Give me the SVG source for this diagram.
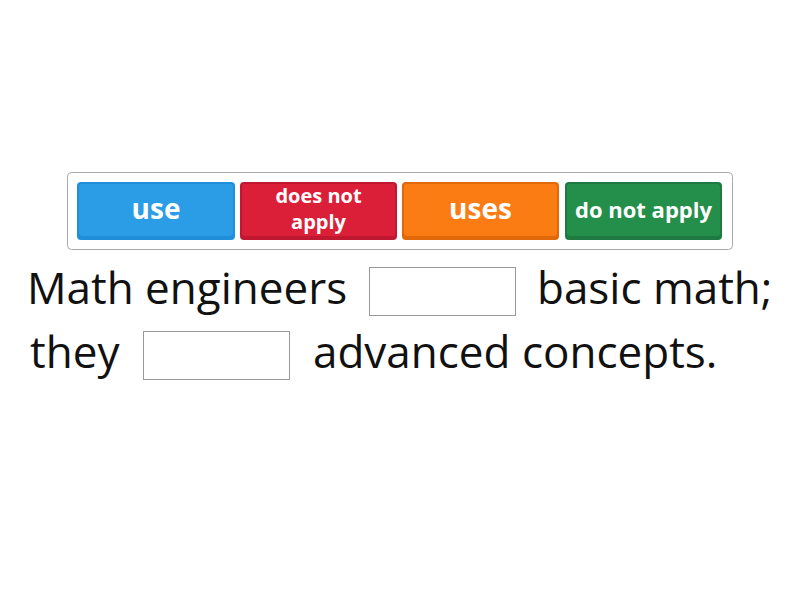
<svg xmlns="http://www.w3.org/2000/svg" width="800" height="600" viewBox="0 0 800 600">
<style>
.t{font-family:"Open Sans",sans-serif;font-weight:bold;fill:#fff;text-anchor:middle}
.s{font-family:"Open Sans",sans-serif;font-size:44px;fill:#111}
.b{fill:#fff;stroke:#999;stroke-width:1}
</style>
<rect width="800" height="600" fill="#fff"/>
<rect x="67.5" y="172.5" width="665" height="77" rx="4" fill="#fff" stroke="#aaa"/>
<g id="tile-use"><rect x="77" y="182" width="158" height="58" rx="4" fill="#1e8fd8"/><rect x="79" y="184" width="154" height="52" rx="3" fill="#2a9de6"/><text class="t" x="156" y="219" font-size="28">use</text></g>
<g id="tile-does-not-apply"><rect x="240" y="182" width="157" height="58" rx="4" fill="#c01830"/><rect x="242" y="184" width="153" height="52" rx="3" fill="#dc1f38"/><text class="t" x="318.5" y="203" font-size="20">does not</text><text class="t" x="318.5" y="229" font-size="20">apply</text></g>
<g id="tile-uses"><rect x="402" y="182" width="157" height="58" rx="4" fill="#e06a0a"/><rect x="404" y="184" width="153" height="52" rx="3" fill="#fb7c12"/><text class="t" x="480.5" y="219" font-size="28">uses</text></g>
<g id="tile-do-not-apply"><rect x="565" y="182" width="157" height="58" rx="4" fill="#1e7a40"/><rect x="567" y="184" width="153" height="52" rx="3" fill="#248f4b"/><text class="t" x="643.5" y="218" font-size="22">do not apply</text></g>
<text class="s" x="27" y="304">Math engineers</text>
<rect class="b" x="369.5" y="267.5" width="146" height="48"/>
<text class="s" x="537" y="304">basic math;</text>
<text class="s" x="30" y="368">they</text>
<rect class="b" x="143.5" y="331.5" width="146" height="48"/>
<text class="s" x="313" y="368">advanced concepts.</text>
</svg>
